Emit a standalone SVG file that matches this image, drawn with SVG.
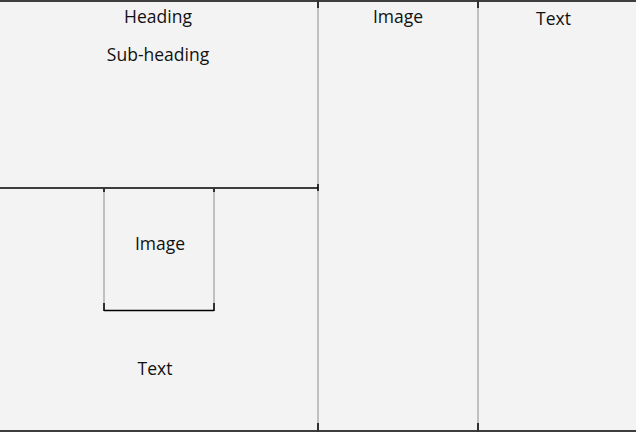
<svg xmlns="http://www.w3.org/2000/svg" width="636" height="432" viewBox="0 0 636 432">
<style>
.t{font-family:"Open Sans","Liberation Sans",sans-serif;font-size:17.5px;fill:#111;text-anchor:middle}
.g{stroke:#c0c0c0;stroke-width:2;fill:none}
.k{stroke:#000;stroke-width:1.5;fill:none}
</style>
<rect x="0" y="0" width="636" height="432" fill="#f3f3f3"/>
<g id="connectors">
<line class="k" x1="0" y1="1" x2="636" y2="1"/>
<line class="k" x1="0" y1="431" x2="636" y2="431"/>
<line class="g" x1="318" y1="0" x2="318" y2="432"/>
<line class="k" x1="318" y1="0" x2="318" y2="8"/>
<line class="k" x1="318" y1="423" x2="318" y2="432"/>
<line class="k" x1="318" y1="184" x2="318" y2="191"/>
<line class="g" x1="478" y1="0" x2="478" y2="432"/>
<line class="k" x1="478" y1="0" x2="478" y2="8"/>
<line class="k" x1="478" y1="423" x2="478" y2="432"/>
<line class="k" x1="0" y1="188" x2="318" y2="188"/>
</g>
<g id="heading-panel">
<text class="t" x="158" y="23">Heading</text>
<text class="t" x="158" y="61">Sub-heading</text>
</g>
<g id="image-box">
<line class="g" x1="104" y1="188" x2="104" y2="311"/>
<line class="g" x1="214" y1="188" x2="214" y2="311"/>
<line class="k" x1="104" y1="188" x2="104" y2="192"/>
<line class="k" x1="214" y1="188" x2="214" y2="192"/>
<line class="k" x1="104" y1="303" x2="104" y2="311"/>
<line class="k" x1="214" y1="303" x2="214" y2="311"/>
<line class="k" x1="104" y1="310.5" x2="214" y2="310.5"/>
<text class="t" x="160" y="250">Image</text>
</g>
<g id="text-lower">
<text class="t" x="155" y="375">Text</text>
</g>
<g id="image-column">
<text class="t" x="398" y="23">Image</text>
</g>
<g id="text-column">
<text class="t" x="553.5" y="25">Text</text>
</g>
</svg>
